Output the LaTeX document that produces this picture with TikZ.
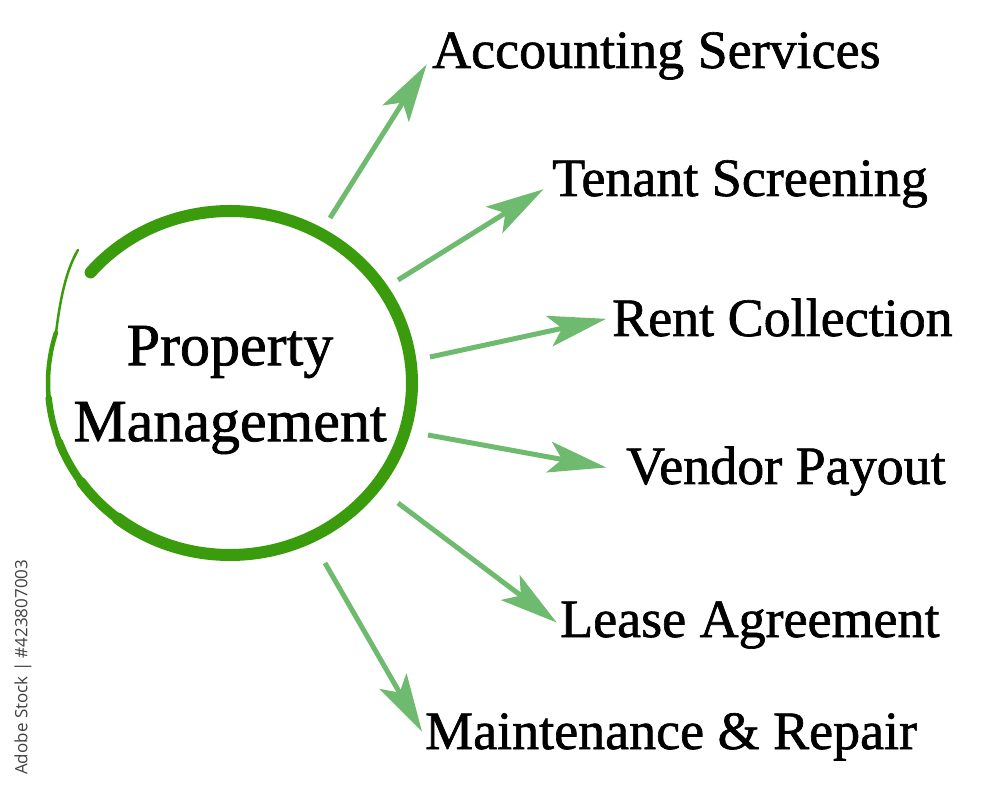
\documentclass[tikz,border=0pt]{standalone}
\usepackage{fontspec}
\setmainfont{Liberation Serif}
\newfontfamily\heavyserif{Liberation Serif}[FakeBold=1.2]
\newfontfamily\stockfont{Open Sans}
\usetikzlibrary{arrows.meta}
\definecolor{ringgreen}{RGB}{58,155,12}
\definecolor{arrowgreen}{RGB}{110,186,110}
\begin{document}
\begin{tikzpicture}[x=1pt,y=1pt,
    item/.style ={anchor=base west, inner sep=0pt, font=\heavyserif\fontsize{54}{60}\selectfont},
    link/.style ={draw=arrowgreen, line width=5pt,
      -{Stealth[length=58pt,width=31pt,inset=13pt]}}]
   \useasboundingbox (0,0) rectangle (1000,790);
   % ring, thinning out on the left
   \begin{scope}[ringgreen, line cap=round]
   \draw[line width=12pt] (230,407) ++(140:182 and 172)
     arc[start angle=140, end angle=-128, x radius=182, y radius=172];
   \foreach \a/\b/\w in {232/215/10, 215/200/8, 200/185/6.5, 185/163/4.5}
     \draw[line width=\w pt] (230,407) ++(\a:182 and 172)
       arc[start angle=\a, end angle=\b, x radius=182, y radius=172];
   \draw[line width=2.5pt] (56,457) .. controls (60,490) and (66,520) .. (78,540);
   \end{scope}
   \node[align=center, inner sep=0pt, font=\heavyserif\fontsize{60}{76}\selectfont] (pm) at (230,400) {Property\\Management};
   % items
   \node[item] (acc) at (432,722) {Accounting Services};
   \node[item] (ten) at (552,594) {Tenant Screening};
   \node[item] (rent) at (612,454) {Rent Collection};
   \node[item] (vend) at (626,306) {Vendor Payout};
   \node[item] (lease) at (560,153) {Lease Agreement};
   \node[item] (maint) at (425,41) {Maintenance \& Repair};
   \coordinate (s1) at (330,572);
   \coordinate (s2) at (398,510);
   \coordinate (s3) at (430,433);
   \coordinate (s4) at (428,355);
   \coordinate (s5) at (398,287);
   \coordinate (s6) at (325,227);
   \draw[link, shorten >=10pt] (s1) -- (acc.west);
   \draw[link, shorten >=10pt] (s2) -- (ten.west);
   \draw[link, shorten >=6pt] (s3) -- (rent.west);
   \draw[link, shorten >=20pt] (s4) -- (vend.west);
   \draw[link, shorten >=4pt] (s5) -- (lease.west);
   \draw[link, shorten >=6pt] (s6) -- (maint.west);
   % watermark
   \node[rotate=90, anchor=west, inner sep=0pt, text=black!75, font=\stockfont\fontsize{17}{20}\selectfont] (stock) at (23,15) {Adobe Stock | \#423807003};
 \end{tikzpicture}
\end{document}
